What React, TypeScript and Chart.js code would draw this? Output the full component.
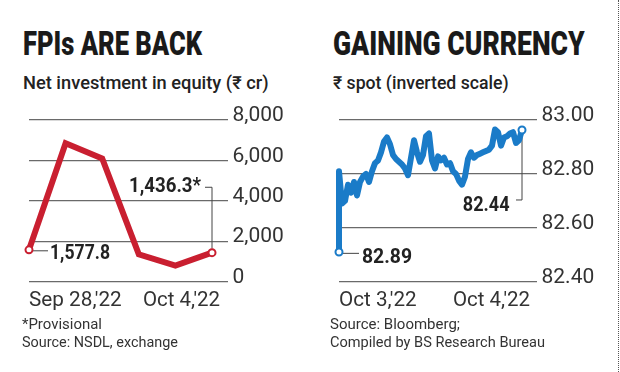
import React, { useEffect, useLayoutEffect, useRef } from "react";
import { Chart, registerables } from "chart.js";

Chart.register(...registerables);

// ---------- Data: FPI net investment ----------
const fpiValues = [1577.8, 6850, 6100, 1350, 800, 1436.3];
const fpiYTicks = [0, 2000, 4000, 6000, 8000];
const fpiYTickLabels = ["0", "2,000", "4,000", "6,000", "8,000"];
const fpiXLabels = ["Sep 28,'22", "Oct 4,'22"];
const fpiFirstLabel = "1,577.8";
const fpiLastLabel = "1,436.3*";

// ---------- Data: rupee spot (plotted on the displayed, inverted scale) ----------
const rupeeValues = [
  82.51, 82.81, 82.69, 82.7, 82.76, 82.73, 82.77, 82.72, 82.77, 82.79, 82.8,
  82.77, 82.81, 82.84, 82.85, 82.88, 82.92, 82.935, 82.91, 82.87, 82.855,
  82.845, 82.835, 82.82, 82.795, 82.86, 82.925, 82.88, 82.845, 82.87, 82.94,
  82.95, 82.85, 82.82, 82.865, 82.85, 82.86, 82.835, 82.84, 82.81, 82.8,
  82.775, 82.76, 82.79, 82.855, 82.88, 82.86, 82.87, 82.875, 82.88, 82.885,
  82.89, 82.905, 82.965, 82.955, 82.905, 82.935, 82.94, 82.95, 82.955, 82.915,
  82.925, 82.963,
];
const rupeeYTicks = [82.4, 82.6, 82.8, 83.0];
const rupeeYTickLabels = ["82.40", "82.60", "82.80", "83.00"];
const rupeeXLabels = ["Oct 3,'22", "Oct 4,'22"];
const rupeeFirstLabel = "82.89";
const rupeeLastLabel = "82.44";

const RED = "#c91f30";
const BLUE = "#1a7bc8";
const GRID = "#6a6a6a";
const FONT = "Roboto, 'Noto Sans', sans-serif";

function drawText(
  ctx: CanvasRenderingContext2D,
  text: string,
  x: number,
  cy: number,
  size: number,
  weight: number,
  color: string,
  width?: number,
  align: "left" | "right" = "left"
) {
  ctx.save();
  ctx.font = `${weight} ${size}px ${FONT}`;
  ctx.fillStyle = color;
  ctx.textBaseline = "alphabetic";
  ctx.textAlign = "left";
  const m = ctx.measureText(text).width;
  const w = width ?? m;
  const lx = align === "right" ? x - w : x;
  ctx.translate(lx, cy + 0.355 * size);
  ctx.scale(w / m, 1);
  ctx.fillText(text, 0, 0);
  ctx.restore();
}

function line(ctx: CanvasRenderingContext2D, pts: number[][]) {
  ctx.save();
  ctx.strokeStyle = "#444";
  ctx.lineWidth = 1;
  ctx.beginPath();
  pts.forEach((p, i) => (i === 0 ? ctx.moveTo(p[0], p[1]) : ctx.lineTo(p[0], p[1])));
  ctx.stroke();
  ctx.restore();
}

function axisText(chart: any, tickVals: number[], tickLabels: string[], xLabels: string[], xWidths: number[]) {
  const ctx = chart.ctx;
  const ca = chart.chartArea;
  const ys = chart.scales.y;
  tickVals.forEach((v, i) => {
    drawText(ctx, tickLabels[i], ca.right + 4.5, ys.getPixelForValue(v) - 6.3, 21, 400, "#333");
  });
  drawText(ctx, xLabels[0], ca.left, ca.bottom + 17.1, 21, 400, "#333", xWidths[0]);
  drawText(ctx, xLabels[1], ca.left + 114, ca.bottom + 17.1, 21, 400, "#333", xWidths[1]);
}

function FitText(props: {
  text: string; left: number; cy: number; width: number; size: number; weight: number; color: string;
}) {
  const ref = useRef<HTMLSpanElement>(null);
  useLayoutEffect(() => {
    const fit = () => {
      const el = ref.current;
      if (!el) return;
      el.style.transform = "none";
      const w = el.getBoundingClientRect().width;
      if (w > 0) el.style.transform = `scaleX(${props.width / w})`;
    };
    fit();
    (document as any).fonts?.ready?.then(fit);
  }, []);
  return (
    <span
      ref={ref}
      style={{
        position: "absolute",
        left: props.left,
        top: props.cy - 0.487 * props.size,
        fontFamily: FONT,
        fontSize: props.size,
        lineHeight: `${props.size}px`,
        fontWeight: props.weight,
        color: props.color,
        whiteSpace: "nowrap",
        transformOrigin: "0 0",
      }}
    >
      {props.text}
    </span>
  );
}

export default function App() {
  const fpiRef = useRef<HTMLCanvasElement>(null);
  const rupRef = useRef<HTMLCanvasElement>(null);

  useEffect(() => {
    const fpiPlugin = {
      id: "fpiText",
      beforeDatasetsDraw(chart: any) {
        const ctx = chart.ctx;
        const pts = chart.getDatasetMeta(0).data;
        const p0 = pts[0];
        const p5 = pts[pts.length - 1];
        line(ctx, [[p0.x + 4, p0.y + 1], [p0.x + 19, p0.y + 1]]);
        line(ctx, [[p5.x - 7, p5.y - 65.4], [p5.x, p5.y - 65.4], [p5.x, p5.y - 4]]);
      },
      afterDraw(chart: any) {
        const ctx = chart.ctx;
        axisText(chart, fpiYTicks, fpiYTickLabels, fpiXLabels, [92.7, 77]);
        const pts = chart.getDatasetMeta(0).data;
        const p0 = pts[0];
        const p5 = pts[pts.length - 1];
        drawText(ctx, fpiFirstLabel, p0.x + 21, p0.y + 2.4, 20, 700, "#222", 60);
        drawText(ctx, fpiLastLabel, p5.x - 11, p5.y - 67.7, 20, 700, "#222", 72, "right");
      },
    };

    const fpiChart = new Chart(fpiRef.current!, {
      type: "line",
      data: {
        datasets: [
          {
            data: fpiValues.map((v, i) => ({ x: i, y: v })),
            borderColor: RED,
            borderWidth: 6,
            borderJoinStyle: "miter",
            tension: 0,
            clip: false as any,
            pointRadius: fpiValues.map((_, i) => (i === 0 || i === fpiValues.length - 1 ? 3.5 : 0)),
            pointBorderWidth: 2,
            pointBackgroundColor: "#fff",
            pointBorderColor: RED,
          },
        ],
      },
      options: {
        animation: false,
        responsive: false,
        devicePixelRatio: 1,
        layout: { padding: { left: 29, right: 82, top: 20, bottom: 48.3 } },
        plugins: { legend: { display: false }, tooltip: { enabled: false } },
        scales: {
          x: { type: "linear", min: 0, max: 5.437, display: false },
          y: {
            position: "right",
            min: 0,
            max: 8000,
            afterBuildTicks: (s: any) => {
              s.ticks = fpiYTicks.map((v) => ({ value: v }));
            },
            ticks: { display: false },
            border: { display: false },
            grid: { color: GRID, lineWidth: 1.2, drawTicks: false },
          },
        },
      },
      plugins: [fpiPlugin],
    } as any);

    const rupPlugin = {
      id: "rupText",
      beforeDatasetsDraw(chart: any) {
        const ctx = chart.ctx;
        const pts = chart.getDatasetMeta(0).data;
        const p0 = pts[0];
        const pl = pts[pts.length - 1];
        line(ctx, [[p0.x + 4, p0.y + 1.3], [p0.x + 20, p0.y + 1.3]]);
        line(ctx, [[pl.x - 6, pl.y + 70], [pl.x, pl.y + 70], [pl.x, pl.y + 4]]);
      },
      afterDraw(chart: any) {
        const ctx = chart.ctx;
        axisText(chart, rupeeYTicks, rupeeYTickLabels, rupeeXLabels, [77.7, 77]);
        const pts = chart.getDatasetMeta(0).data;
        const p0 = pts[0];
        const pl = pts[pts.length - 1];
        drawText(ctx, rupeeFirstLabel, p0.x + 23, p0.y + 3.8, 20, 700, "#222", 50);
        drawText(ctx, rupeeLastLabel, pl.x - 12.5, pl.y + 73.7, 20, 700, "#222", 46.7, "right");
      },
    };

    const rupChart = new Chart(rupRef.current!, {
      type: "line",
      data: {
        datasets: [
          {
            data: rupeeValues.map((v, i) => ({ x: Math.max(0, i - 1), y: v })),
            borderColor: BLUE,
            borderWidth: 6,
            borderJoinStyle: "round",
            borderCapStyle: "round",
            tension: 0,
            clip: false as any,
            pointRadius: rupeeValues.map((_, i) => (i === 0 || i === rupeeValues.length - 1 ? 3.5 : 0)),
            pointBorderWidth: 2,
            pointBackgroundColor: "#fff",
            pointBorderColor: BLUE,
          },
        ],
      },
      options: {
        animation: false,
        responsive: false,
        devicePixelRatio: 1,
        layout: { padding: { left: 29, right: 83, top: 20, bottom: 48.3 } },
        plugins: { legend: { display: false }, tooltip: { enabled: false } },
        scales: {
          x: { type: "linear", min: 0, max: 66, display: false },
          y: {
            position: "right",
            min: 82.4,
            max: 83.0,
            afterBuildTicks: (s: any) => {
              s.ticks = rupeeYTicks.map((v) => ({ value: v }));
            },
            ticks: { display: false },
            border: { display: false },
            grid: { color: GRID, lineWidth: 1.2, drawTicks: false },
          },
        },
      },
      plugins: [rupPlugin],
    } as any);

    return () => {
      fpiChart.destroy();
      rupChart.destroy();
    };
  }, []);

  return (
    <div
      style={{
        position: "absolute",
        left: 0,
        top: 0,
        width: 620,
        height: 372,
        background: "#fff",
        overflow: "hidden",
      }}
    >
      <FitText text="FPIs ARE BACK" left={22.7} cy={43.3} width={179} size={33} weight={900} color="#1a1a1a" />
      <FitText text="GAINING CURRENCY" left={333.3} cy={43.3} width={251.7} size={33} weight={900} color="#1a1a1a" />
      <FitText text="Net investment in equity (₹ cr)" left={22.7} cy={83} width={245.6} size={18} weight={500} color="#222" />
      <FitText text="₹ spot (inverted scale)" left={332.7} cy={83} width={175.6} size={18} weight={500} color="#222" />

      <canvas
        ref={fpiRef}
        width={310}
        height={230}
        style={{ position: "absolute", left: 0, top: 100, width: 310, height: 230 }}
      />
      <canvas
        ref={rupRef}
        width={310}
        height={230}
        style={{ position: "absolute", left: 310, top: 100, width: 310, height: 230 }}
      />

      <FitText text="*Provisional" left={21.7} cy={324.7} width={80} size={15.5} weight={400} color="#333" />
      <FitText text="Source: NSDL, exchange" left={21.7} cy={342.8} width={156} size={15.5} weight={400} color="#333" />
      <FitText text="Source: Bloomberg;" left={330} cy={324.7} width={130} size={15.5} weight={400} color="#333" />
      <FitText text="Compiled by BS Research Bureau" left={330} cy={342.8} width={215} size={15.5} weight={400} color="#333" />

      <div
        style={{
          position: "absolute",
          left: 618,
          top: 0,
          width: 0,
          height: 372,
          borderLeft: "1px dotted #555",
        }}
      />
    </div>
  );
}
